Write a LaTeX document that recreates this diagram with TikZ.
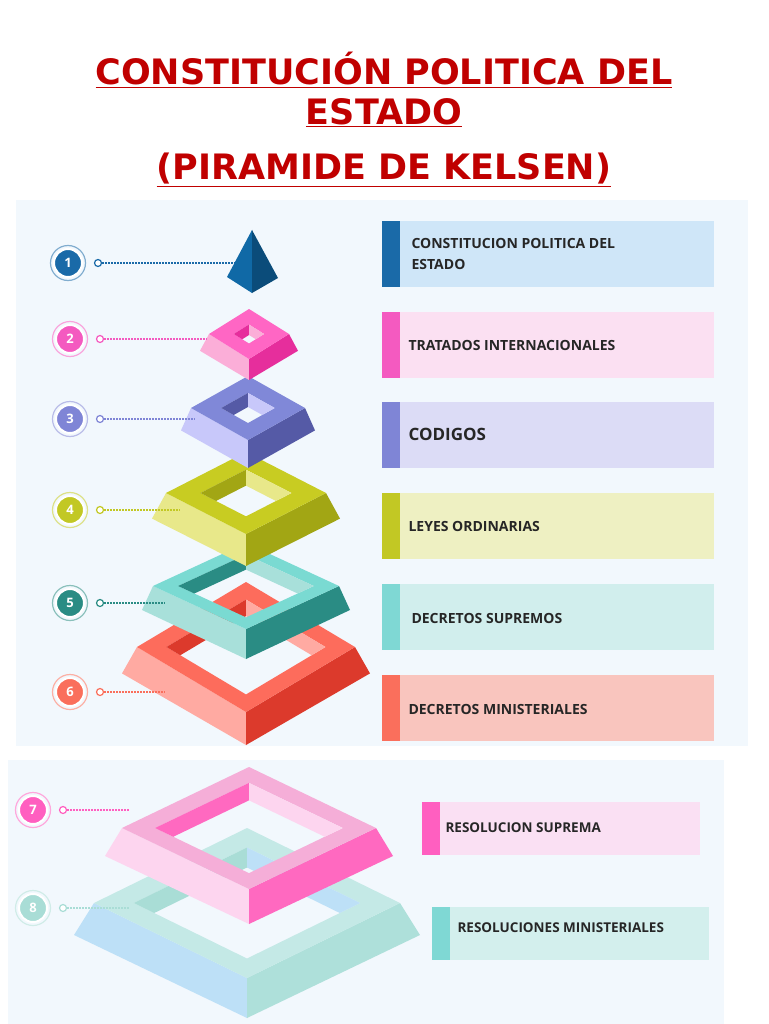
\documentclass[tikz,border=0pt]{standalone}
\usepackage{fontspec}
\setmainfont{DejaVu Sans}
\newfontfamily\lab{Open Sans}
\begin{document}
\begin{tikzpicture}[x=1pt,y=-1pt,
 title/.style={font=\fontsize{35}{40}\bfseries\selectfont,text=titlered},
 numc/.style={circle,fill=#1,draw=white,line width=2pt,minimum size=28pt,inner sep=0pt,text=white,font=\lab\bfseries\fontsize{13}{13}\selectfont},
 ringc/.style={circle,draw=#1,line width=1.2pt,minimum size=35pt},
 dotc/.style={circle,draw=#1,line width=1.2pt,fill=white,minimum size=7pt,inner sep=0pt},
 lead/.style={#1,line width=1.5pt,dash pattern=on 1.5pt off 1.5pt},
 lbl/.style={anchor=west,align=left,font=\lab\bfseries\fontsize{14}{21}\selectfont,text=black!85}]
\definecolor{titlered}{HTML}{C00000}
\definecolor{bgp}{HTML}{F2F8FD}
\definecolor{pyl}{HTML}{1069A6}\definecolor{pyr}{HTML}{0B4C7A}
\definecolor{rat}{HTML}{FF66C4}\definecolor{ral}{HTML}{FBAED8}\definecolor{rar}{HTML}{E62E9C}\definecolor{rad}{HTML}{E62E9C}\definecolor{rai}{HTML}{FBAED8}
\definecolor{rbt}{HTML}{8088D8}\definecolor{rbl}{HTML}{C8C8FA}\definecolor{rbr}{HTML}{555AA6}\definecolor{rbd}{HTML}{555AA6}\definecolor{rbi}{HTML}{C8C8FA}
\definecolor{rct}{HTML}{C8CC22}\definecolor{rcl}{HTML}{E8E88A}\definecolor{rcr}{HTML}{A2A614}\definecolor{rcd}{HTML}{A2A614}\definecolor{rci}{HTML}{E8E88A}
\definecolor{rdt}{HTML}{7ADAD2}\definecolor{rdl}{HTML}{A8E0DA}\definecolor{rdr}{HTML}{2A8C84}\definecolor{rdd}{HTML}{2A8C84}\definecolor{rdi}{HTML}{A8E0DA}
\definecolor{rqt}{HTML}{FD6C5C}\definecolor{rql}{HTML}{FFAAA2}\definecolor{rqr}{HTML}{DC3A2C}\definecolor{rqd}{HTML}{DC3A2C}\definecolor{rqi}{HTML}{FFAAA2}
\definecolor{rft}{HTML}{F5AED8}\definecolor{rfl}{HTML}{FDD5EF}\definecolor{rfr}{HTML}{FF69C0}\definecolor{rfd}{HTML}{FF69C0}\definecolor{rfi}{HTML}{FDD5EF}
\definecolor{rgt}{HTML}{C4E9E6}\definecolor{rgl}{HTML}{BDE0F7}\definecolor{rgr}{HTML}{AEE0DA}\definecolor{rgd}{HTML}{A9DDD6}\definecolor{rgi}{HTML}{BDE0F7}
\definecolor{b1}{HTML}{CFE6F8}\definecolor{a1}{HTML}{1A6AA8}
\definecolor{b2}{HTML}{FBE0F2}\definecolor{a2}{HTML}{F45AC0}
\definecolor{b3}{HTML}{DCDCF6}\definecolor{a3}{HTML}{7F85D6}
\definecolor{b4}{HTML}{EEF0C2}\definecolor{a4}{HTML}{C2C824}
\definecolor{b5}{HTML}{D1EEED}\definecolor{a5}{HTML}{7FD8D4}
\definecolor{b6}{HTML}{F9C5BE}\definecolor{a6}{HTML}{FA6F5C}
\definecolor{b7}{HTML}{FAE0F3}\definecolor{a7}{HTML}{FF5FC0}
\definecolor{b8}{HTML}{D3EFED}\definecolor{a8}{HTML}{7FD8D4}
\definecolor{c8}{HTML}{A9DDD6}
\newcommand\ring[8]{%
 \pgfmathsetmacro\cyy{#2+#4}%
 \pgfmathsetmacro\wi{#3*#7}\pgfmathsetmacro\di{#4*#7}%
 \pgfmathsetmacro\dep{#5*0.5}%
 \fill[#8l] (#1-#3,\cyy) -- (#1,\cyy+#4) -- (#1,\cyy+#4+#5) -- (#1-#3-#6,\cyy+#5*0.8) -- cycle;
 \fill[#8r] (#1+#3,\cyy) -- (#1,\cyy+#4) -- (#1,\cyy+#4+#5) -- (#1+#3+#6,\cyy+#5*0.8) -- cycle;
 \fill[#8t,even odd rule] (#1,#2) -- (#1+#3,\cyy) -- (#1,\cyy+#4) -- (#1-#3,\cyy) -- cycle
   (#1,\cyy-\di) -- (#1+\wi,\cyy) -- (#1,\cyy+\di) -- (#1-\wi,\cyy) -- cycle;
 \begin{scope}
 \clip (#1,\cyy-\di) -- (#1+\wi,\cyy) -- (#1,\cyy+\di) -- (#1-\wi,\cyy) -- cycle;
 \fill[#8d] (#1-\wi,\cyy) -- (#1,\cyy-\di) -- (#1,\cyy-\di+\dep) -- (#1-\wi,\cyy+\dep) -- cycle;
 \fill[#8i] (#1,\cyy-\di) -- (#1+\wi,\cyy) -- (#1+\wi,\cyy+\dep) -- (#1,\cyy-\di+\dep) -- cycle;
 \end{scope}}
\useasboundingbox (0,0) rectangle (768,1024);
\fill[white] (0,0) rectangle (768,1024);
% titles
\node[title] (t1) at (384,70) {\underline{CONSTITUCIÓN POLITICA DEL}};
\node[title] (t2) at (384,113) {\underline{ESTADO}};
\node[title] (t3) at (384,170) {\underline{(PIRAMIDE DE KELSEN)}};
% panels
\fill[bgp] (16,200) rectangle (748,746);
\fill[bgp] (8,760) rectangle (724,1024);
% rings
\ring{246}{582}{109}{65}{33}{15}{0.73}{rq}
\ring{246}{543}{93}{43}{30}{11}{0.73}{rd}
\ring{246}{452}{80}{41}{32}{14}{0.57}{rc}
\ring{248}{376}{57}{32}{28}{10}{0.47}{rb}
\ring{249}{309}{40}{25}{21}{9}{0.38}{ra}
\fill[pyl] (252,230) -- (227,277) -- (252,293) -- cycle;
\fill[pyr] (252,230) -- (278,278) -- (252,293) -- cycle;
\ring{247}{828}{153}{75}{40}{20}{0.74}{rg}
\ring{249}{767}{127}{61}{35}{17}{0.74}{rf}
% label boxes
\foreach \i/\y in {1/221,2/312,3/402,4/493,5/584,6/675}{
  \fill[b\i] (382,\y) rectangle (714,\y+66);
  \fill[a\i] (382,\y) rectangle (400,\y+66);}
\fill[b7] (422,802) rectangle (700,855); \fill[a7] (422,802) rectangle (440,855);
\fill[b8] (432,907) rectangle (709,960); \fill[a8] (432,907) rectangle (450,960);
\node[lbl] (l1) at (408,254) {CONSTITUCION POLITICA DEL\\ESTADO};
\node[lbl] (l2) at (405,345) {TRATADOS INTERNACIONALES};
\node[lbl,font=\lab\bfseries\fontsize{17}{20}\selectfont] (l3) at (405,434) {CODIGOS};
\node[lbl] (l4) at (405,526) {LEYES ORDINARIAS};
\node[lbl] (l5) at (408,618) {DECRETOS SUPREMOS};
\node[lbl] (l6) at (405,709) {DECRETOS MINISTERIALES};
\node[lbl,font=\lab\bfseries\fontsize{13.5}{16}\selectfont] (l7) at (442,828) {RESOLUCION SUPREMA};
\node[lbl,font=\lab\bfseries\fontsize{13.5}{16}\selectfont] (l8) at (454,928) {RESOLUCIONES MINISTERIALES};
% number circles and leaders
\foreach \i/\x/\y/\c/\e in {1/68/263/a1/235,2/70/339/a2/207,3/70/419/a3/195,4/70/510/a4/180,5/70/603/rdr/165,6/70/692/a6/165,7/33/810/a7/130,8/33/908/c8/130}{
  \node[ringc=\c!55] (r\i) at (\x,\y) {};
  \node[numc=\c] (n\i) at (\x,\y) {\i};
  \node[dotc=\c] (o\i) at (\x+30,\y) {};
  \coordinate (e\i) at (\e,\y);
  \draw[lead=\c] (o\i) -- (e\i);}
\end{tikzpicture}
\end{document}
